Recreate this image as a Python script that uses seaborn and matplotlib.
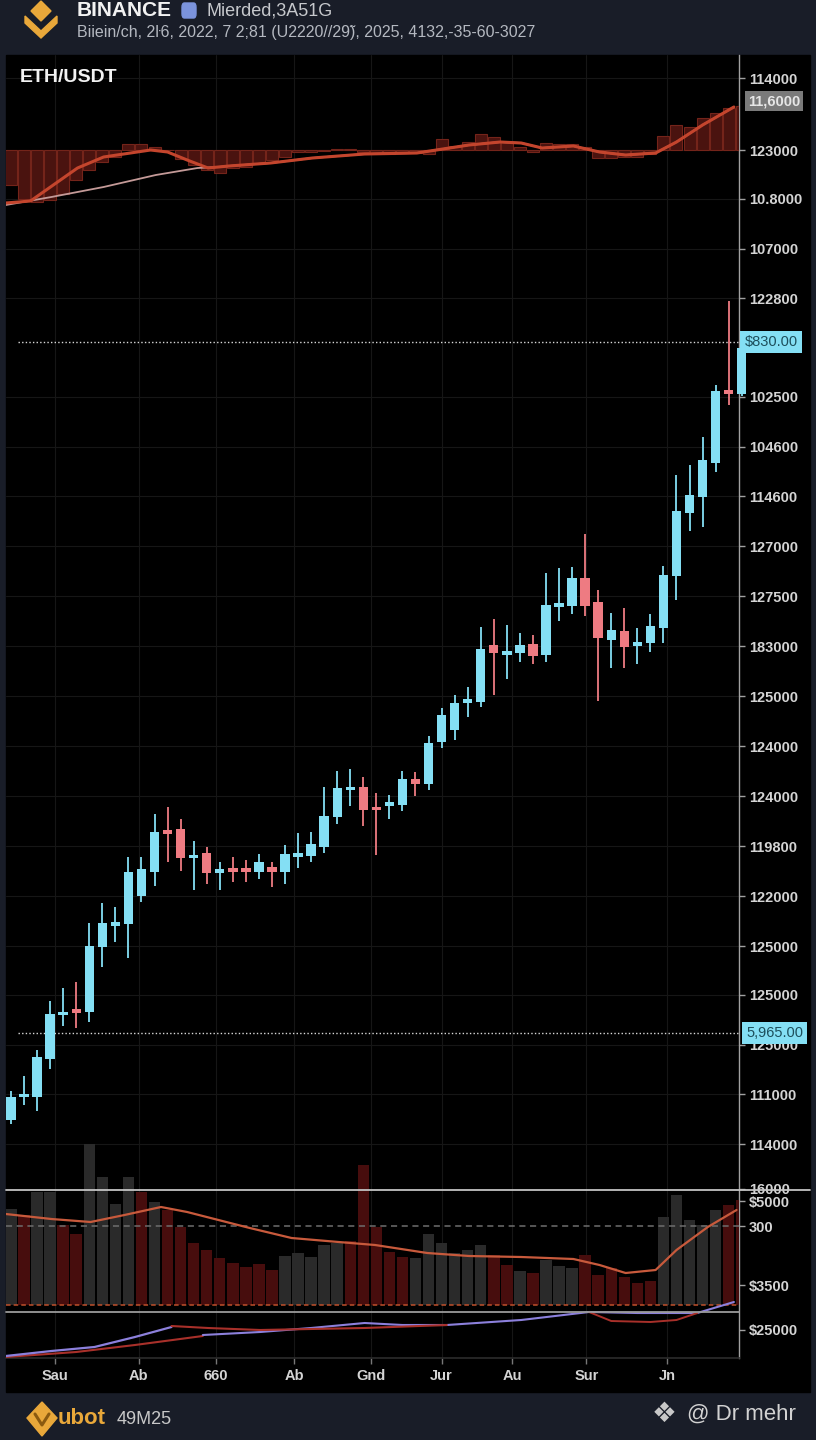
import matplotlib
matplotlib.use("Agg")
import matplotlib.pyplot as plt
import matplotlib.transforms as mtransforms
from matplotlib.lines import Line2D
from matplotlib.patches import Rectangle, Polygon, FancyBboxPatch
import seaborn as sns

# ------------------------------------------------------------------ data
opens = [1548, 1594, 1594, 1670, 1758, 1770, 1764, 1894, 1936, 1940, 1996, 2044, 2128, 2130, 2072,
         2082, 2042, 2052, 2052, 2044, 2054, 2044, 2074, 2076, 2094, 2154, 2208, 2214, 2174, 2176,
         2178, 2230, 2220, 2304, 2328, 2382, 2384, 2498, 2478, 2482, 2500, 2478, 2574, 2576, 2632,
         2584, 2508, 2526, 2496, 2502, 2532, 2636, 2762, 2794, 2862, 3008, 3000]
closes = [1594, 1600, 1674, 1760, 1764, 1762, 1896, 1942, 1944, 2044, 2050, 2124, 2120, 2072, 2078,
          2042, 2050, 2044, 2044, 2064, 2044, 2080, 2082, 2100, 2156, 2212, 2214, 2168, 2168, 2184,
          2230, 2220, 2302, 2358, 2382, 2390, 2490, 2482, 2486, 2498, 2476, 2578, 2582, 2632, 2576,
          2512, 2528, 2494, 2504, 2536, 2638, 2766, 2798, 2868, 3006, 3000, 3092]
highs = [1606, 1636, 1688, 1786, 1812, 1824, 1942, 1982, 1974, 2074, 2074, 2160, 2174, 2150, 2106,
         2094, 2064, 2074, 2068, 2080, 2064, 2098, 2122, 2124, 2214, 2246, 2250, 2234, 2202, 2198,
         2246, 2244, 2316, 2372, 2398, 2414, 2534, 2550, 2538, 2522, 2518, 2642, 2652, 2654, 2720,
         2608, 2562, 2572, 2532, 2560, 2656, 2838, 2858, 2914, 3018, 3186, 3108]
lows = [1540, 1578, 1566, 1650, 1736, 1732, 1744, 1854, 1904, 1872, 1984, 2016, 2064, 2046, 2008,
        2020, 2008, 2024, 2024, 2030, 2014, 2020, 2052, 2064, 2082, 2140, 2176, 2136, 2078, 2150,
        2166, 2196, 2208, 2292, 2308, 2354, 2374, 2398, 2430, 2464, 2460, 2464, 2546, 2560, 2556,
        2386, 2452, 2452, 2460, 2484, 2502, 2588, 2726, 2734, 2844, 2978, 2996]

# price levels (dotted lines + boxes)
level_high = 3104
level_low = 1722
level_grey = 3586
level_high_label = "$830.00"
level_low_label = "5,965.00"
level_grey_label = "11,6000"

# right axis (price) tick values and their printed labels
price_ticks = [1500, 1600, 1698, 1798, 1896, 1996, 2096, 2196, 2296, 2396, 2496, 2596, 2696,
               2796, 2894, 2994, 3192, 3290, 3390, 3488, 3632]
price_tick_labels = ["114000", "111000", "125000", "125000", "125000", "122000", "119800", "124000",
                     "124000", "125000", "183000", "127500", "127000", "114600", "104600", "102500",
                     "122800", "107000", "10.8000", "123000", "114000"]

# x axis
x_tick_pos = [3.4, 9.8, 15.7, 21.7, 27.6, 33.0, 38.4, 44.1, 50.3]
x_tick_labels = ["Sau", "Ab", "660", "Ab", "Gnd", "Jur", "Au", "Sur", "Jn"]

# top oscillator (MACD-like)
macd_hist = [-35, -49, -52, -50, -44, -30, -20, -12, -7, 6, 6, 3, 0, -9, -15, -20, -23, -18, -17,
             -13, -10, -7, -2, -2, -1, 1, 1, -2, -4, -4, -3, -3, -4, 11, 4, 8, 16, 13, 8, 3, -2,
             7, 6, 6, 3, -8, -8, -7, -7, -4, 14, 25, 23, 32, 37, 42, 44]
macd_x = [-0.4, 1.5, 5.1, 7.1, 10.7, 12.0, 13.5, 15.1, 16.7, 19.9, 23.1, 27.1, 31.1, 35.1, 37.5,
          39.1, 40.7, 43.1, 45.1, 47.1, 49.4, 51.0, 53.0, 55.4]
macd_line = [-53, -51, -18, -7, 0, -2, -10, -18, -16, -13, -8, -4, -3, 5, 8, 7, 2, 4, -2, -5, -3,
             8, 25, 43]
signal_x = [-0.4, 3.1, 7.1, 11.1, 14.3, 15.9, 16.7, 19.9, 23.1, 27.1, 31.1, 35.1, 37.5, 39.1,
            40.7, 43.1, 45.1, 47.1, 49.4, 51.0, 53.0, 55.4]
signal_line = [-55, -47, -37, -25, -18, -17, -16, -13, -8, -4, -3, 5, 8, 7, 2, 4, -2, -5, -3, 8,
               25, 43]

# volume
volume = [960, 900, 1130, 1130, 800, 710, 1610, 1280, 1010, 1280, 1130, 1030, 950, 780, 620, 550,
          470, 420, 380, 410, 350, 490, 520, 480, 600, 620, 640, 1400, 780, 530, 480, 470, 710,
          620, 520, 550, 600, 500, 400, 340, 320, 450, 390, 370, 500, 300, 370, 280, 220, 240,
          880, 1100, 850, 800, 950, 1000, 1050]
volume_side = list("grggrrggggrgrrrrrrrrrgggggrrrrrggggggrrgrgggrrrrrrgggggrr")
vol_ma_x = [-0.4, 3.1, 6.1, 8.7, 11.5, 13.5, 15.9, 18.3, 21.5, 25.1, 27.9, 31.9, 35.1, 39.1,
            43.1, 45.1, 47.1, 49.4, 51.0, 53.4, 55.6]
vol_ma = [910, 860, 830, 900, 980, 930, 850, 770, 670, 630, 600, 520, 490, 480, 460, 400, 320,
          350, 550, 780, 950]
vol_ref_level = 790
vol_ticks = [1160, 1040, 790, 200]
vol_tick_labels = ["16000", "$5000", "300", "$3500"]

# bottom oscillator lines (segments)
up_purple_x = [-0.4, 3.1, 6.4, 9.5, 12.3]
up_purple = [2, 7, 11, 21, 31]
up_red_x = [12.3, 15.1, 19.1, 23.0, 27.1, 33.4]
up_red = [32, 30, 28, 29, 30, 33]
low_red_x = [-0.4, 5.0, 9.5, 14.7]
low_red = [1, 6, 13, 22]
low_purple_x = [14.7, 19.1, 23.0, 27.1, 30.0, 33.4, 39.1, 44.3, 48.0, 52.6, 55.4]
low_purple = [23, 26, 30, 35, 33, 33, 38, 46, 45, 45, 56]
loop_red_x = [44.3, 46.0, 49.0, 51.0, 52.6]
loop_red = [46, 37, 36, 38, 45]
osc_ticks = [28]
osc_tick_labels = ["$25000"]

# ------------------------------------------------------------------ style
sns.set_theme(style="dark")
plt.rcParams["font.family"] = ["Liberation Sans", "DejaVu Sans"]

W, H = 816, 1440
NAVY = "#191d28"
CYAN = "#84dff4"
RED = "#ee7b82"
LBL = "#d4d4d4"

fig = plt.figure(figsize=(W / 100, H / 100), dpi=100, facecolor=NAVY)


def R(x0, y0, x1, y1):
    return [x0 / W, 1 - y1 / H, (x1 - x0) / W, (y1 - y0) / H]


def fx(x):
    return x / W


def fy(y):
    return 1 - y / H


# black chart area
fig.add_artist(Rectangle((fx(6), fy(1392)), (810 - 6) / W, (1392 - 55) / H,
                         transform=fig.transFigure, color="#000000", zorder=0))

XL = (-0.38, 55.79)
n = len(opens)
idx = list(range(n))

# ---------------- main candle axes
ax = fig.add_axes(R(6, 55, 739, 1358))
ax.set_facecolor("#000000")
ax.set_xlim(*XL)
ax.set_ylim(1072, 3678)
ax.grid(True, color="#161616", lw=0.8)
ax.set_axisbelow(True)
for s in ["left", "top"]:
    ax.spines[s].set_visible(False)
ax.spines["right"].set_color("#a0a0a0")
ax.spines["right"].set_linewidth(1.0)
ax.spines["bottom"].set_color("#2a2a2a")
ax.yaxis.tick_right()
ax.set_yticks(price_ticks)
ax.set_yticklabels(price_tick_labels)
ax.set_xticks(x_tick_pos)
ax.set_xticklabels(x_tick_labels)
ax.tick_params(axis="y", direction="out", length=4, width=1, color="#a0a0a0", pad=3,
               labelsize=10.5, labelcolor=LBL, right=True, left=False)
ax.tick_params(axis="x", direction="out", length=4, width=1, color="#777777", pad=4,
               labelsize=10.5, labelcolor=LBL, bottom=True)
for t in ax.get_yticklabels() + ax.get_xticklabels():
    t.set_fontweight("bold")

cols = [CYAN if c >= o else RED for o, c in zip(opens, closes)]
body_lo = [min(o, c) for o, c in zip(opens, closes)]
body_h = [max(abs(c - o), 5) for o, c in zip(opens, closes)]
ax.vlines(idx, lows, highs, colors=cols, lw=1.3, zorder=3, clip_on=False)
ax.bar(idx, body_h, bottom=body_lo, width=0.72, color=cols, lw=0, zorder=4, clip_on=False)

# dotted level lines
x_dot0 = (18 - 6) / (739 - 6)
ax.axhline(level_high, xmin=x_dot0, xmax=1, color="#d8d8d8", lw=1.0, ls=(0, (1, 1.6)), zorder=2)
ax.axhline(level_low, xmin=x_dot0, xmax=1, color="#d8d8d8", lw=1.0, ls=(0, (1, 1.6)), zorder=2)
btr = mtransforms.blended_transform_factory(ax.transAxes, ax.transData)
ax.text(1.0075, level_high, level_high_label, transform=btr, ha="left", va="center",
        fontsize=10.5, color="#1d4f5c", clip_on=False, zorder=12,
        bbox=dict(boxstyle="square,pad=0.3", fc=CYAN, ec="none"))
ax.text(1.0095, level_low, level_low_label, transform=btr, ha="left", va="center",
        fontsize=10.5, color="#1d4f5c", clip_on=False, zorder=12,
        bbox=dict(boxstyle="square,pad=0.3", fc=CYAN, ec="none"))
ax.text(1.012, level_grey, level_grey_label, transform=btr, ha="left", va="center",
        fontsize=10.5, color="#e6e6e6", clip_on=False, zorder=12, fontweight="bold",
        bbox=dict(boxstyle="square,pad=0.2", fc="#7a7a7a", ec="none"))

# ---------------- top oscillator
axm = fig.add_axes(R(6, 90, 739, 215))
axm.set_facecolor("none")
axm.set_xlim(*XL)
axm.set_ylim(-65, 60)
axm.axis("off")
axm.bar(idx, macd_hist, width=0.92, color="#4a130f", edgecolor="#74241a", lw=0.8, zorder=2)
sns.lineplot(x=signal_x, y=signal_line, ax=axm, color="#c49a98", lw=1.3, sort=False,
             estimator=None, zorder=3)
sns.lineplot(x=macd_x, y=macd_line, ax=axm, color="#c4452d", lw=2.2, sort=False,
             estimator=None, zorder=4)

# ---------------- volume panel
axv = fig.add_axes(R(6, 1140, 739, 1307))
axv.set_facecolor("none")
axv.set_xlim(*XL)
axv.set_ylim(-20, 1650)
for s in axv.spines.values():
    s.set_visible(False)
axv.set_xticks([])
axv.yaxis.tick_right()
axv.set_yticks(vol_ticks)
axv.set_yticklabels(vol_tick_labels)
axv.tick_params(axis="y", direction="out", length=4, width=1, color="#a0a0a0", pad=3,
                labelsize=10.5, labelcolor=LBL, right=True, left=False)
for t in axv.get_yticklabels():
    t.set_fontweight("bold")
vcols = ["#2a2a2a" if s == "g" else "#470d0d" for s in volume_side]
axv.bar(idx, volume, width=0.88, color=vcols, lw=0, zorder=2)
axv.axhline(vol_ref_level, color="#6e6e6e", lw=1.1, ls=(0, (4, 3)), zorder=3)
axv.axhline(0, color="#c0502c", lw=1.1, ls=(0, (3, 2)), zorder=3)
sns.lineplot(x=vol_ma_x, y=vol_ma, ax=axv, color="#c85a3c", lw=1.6, sort=False,
             estimator=None, zorder=4)

# ---------------- bottom oscillator
axo = fig.add_axes(R(6, 1298, 739, 1358))
axo.set_facecolor("none")
axo.set_xlim(*XL)
axo.set_ylim(0, 60)
for s in axo.spines.values():
    s.set_visible(False)
axo.set_xticks([])
axo.yaxis.tick_right()
axo.set_yticks(osc_ticks)
axo.set_yticklabels(osc_tick_labels)
axo.tick_params(axis="y", direction="out", length=4, width=1, color="#a0a0a0", pad=3,
                labelsize=10.5, labelcolor=LBL, right=True, left=False)
for t in axo.get_yticklabels():
    t.set_fontweight("bold")
PURPLE = "#8c80dc"
DRED = "#a8302a"
sns.lineplot(x=low_red_x, y=low_red, ax=axo, color=DRED, lw=1.5, sort=False, estimator=None)
sns.lineplot(x=low_purple_x, y=low_purple, ax=axo, color=PURPLE, lw=1.5, sort=False, estimator=None)
sns.lineplot(x=up_purple_x, y=up_purple, ax=axo, color=PURPLE, lw=1.6, sort=False, estimator=None)
sns.lineplot(x=up_red_x, y=up_red, ax=axo, color=DRED, lw=1.5, sort=False, estimator=None)
sns.lineplot(x=loop_red_x, y=loop_red, ax=axo, color=DRED, lw=1.4, sort=False, estimator=None)
for a in (axm, axv, axo):
    a.set_xlabel("")
    a.set_ylabel("")

# separators
fig.add_artist(Line2D([fx(6), fx(810)], [fy(1190)] * 2, transform=fig.transFigure,
                      color="#c4c4c4", lw=1.3, zorder=20))
fig.add_artist(Line2D([fx(6), fx(739)], [fy(1312)] * 2, transform=fig.transFigure,
                      color="#9a9a9a", lw=1.3, zorder=20))

# ---------------- header
GOLD = "#e9a83a"
fig.add_artist(Polygon([(fx(41), fy(1)), (fx(51), fy(11)), (fx(41), fy(21)), (fx(31), fy(11))],
                       closed=True, transform=fig.transFigure, color=GOLD, zorder=5))
fig.add_artist(Polygon([(fx(25), fy(16)), (fx(41), fy(31)), (fx(57), fy(16)), (fx(57), fy(23)),
                        (fx(41), fy(38)), (fx(25), fy(23))],
                       closed=True, transform=fig.transFigure, color=GOLD, zorder=5))
fig.text(fx(77), fy(11), "BINANCE", fontsize=15, fontweight="bold", color="#f2f2f2",
         ha="left", va="center")
fig.add_artist(FancyBboxPatch((fx(182), fy(18)), 14 / W, 15 / H,
                              boxstyle="round,pad=0,rounding_size=0.003",
                              transform=fig.transFigure, color="#7b93dc", zorder=5))
fig.text(fx(206), fy(11), "Mierded,3A51G", fontsize=13, color="#c6c8cc", ha="left", va="center")
fig.text(fx(77), fy(33), "Biiein/ch, 2\u01406, 2022, 7 2;81 (U2220//29\u0303), 2025, 4132,-35-60-3027",
         fontsize=11.5, color="#b4b8c0", ha="left", va="center")
fig.text(fx(20), fy(78), "ETH/USDT", fontsize=14, fontweight="bold", color="#f2f2f2",
         ha="left", va="center")

# ---------------- footer
fig.add_artist(Polygon([(fx(42), fy(1402)), (fx(57), fy(1418)), (fx(42), fy(1436)), (fx(27), fy(1418))],
                       closed=True, transform=fig.transFigure, color=GOLD, zorder=5))
fig.add_artist(Line2D([fx(35), fx(42), fx(49)], [fy(1414), fy(1425), fy(1414)],
                      transform=fig.transFigure, color="#8a5a10", lw=2.2, zorder=6))
fig.text(fx(58), fy(1419), "ubot", fontsize=16, fontweight="bold", color=GOLD,
         ha="left", va="center")
fig.text(fx(117), fy(1420), "49M25", fontsize=13, color="#c8c8c8", ha="left", va="center")
fig.text(fx(652), fy(1414), "\u2756", fontsize=20, color="#c8c8c8", ha="left", va="center",
         family=["DejaVu Sans"])
fig.text(fx(687), fy(1414), "@ Dr mehr", fontsize=16, color="#d2d2d2", ha="left", va="center")

fig.savefig("out.png", dpi=100, facecolor=NAVY)
